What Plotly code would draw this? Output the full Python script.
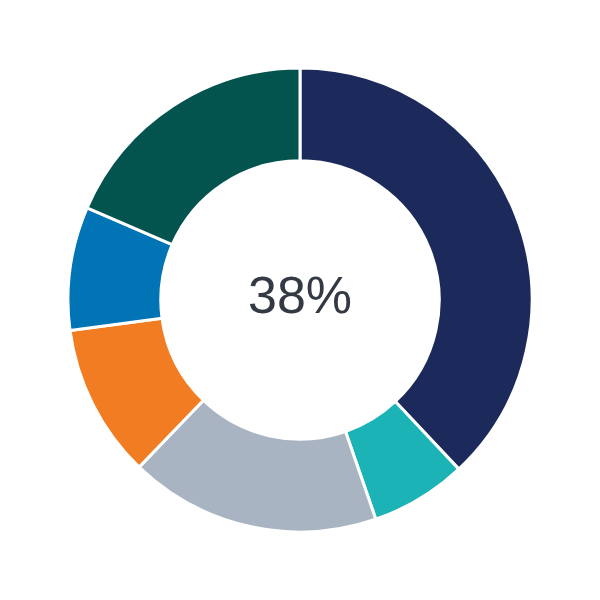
import plotly.graph_objects as go

# --- Data ---
segments = ["Navy", "Teal", "Gray", "Orange", "Blue", "Green"]
shares = [38, 6.7, 17.5, 10.7, 8.6, 18.5]
seg_colors = ["#1b2a5a", "#1bb3b6", "#a9b4c2", "#f17c21", "#0074b4", "#03534f"]
center_label = "38%"

fig = go.Figure(
    go.Pie(
        labels=segments,
        values=shares,
        hole=0.6,
        sort=False,
        direction="clockwise",
        rotation=0,
        marker=dict(colors=seg_colors, line=dict(color="white", width=3)),
        textinfo="none",
        hoverinfo="label+percent",
        showlegend=False,
    )
)

# page body has an 8px default margin, so the margins are offset to keep
# the ring centred in the 600x600 shot
fig.update_layout(
    width=600,
    height=600,
    margin=dict(l=60, r=76, t=60, b=76),
    paper_bgcolor="white",
    plot_bgcolor="white",
    annotations=[
        dict(
            text=center_label,
            x=0.5,
            y=0.5,
            xref="paper",
            yref="paper",
            yshift=5,
            showarrow=False,
            font=dict(family="Liberation Sans, Arial", size=52, color="#343a44"),
        )
    ],
)

fig.write_html("out.html")
